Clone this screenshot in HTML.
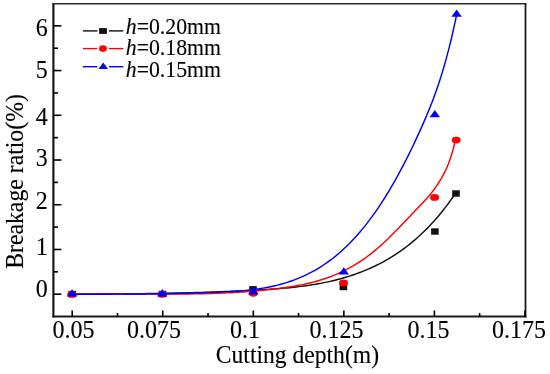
<!DOCTYPE html>
<html><head><meta charset="utf-8"><style>
html,body{margin:0;padding:0;background:#fff;width:550px;height:374px;overflow:hidden}
svg{display:block;filter:blur(0.3px)}
text{font-family:"Liberation Serif","Times New Roman",serif;fill:#000;stroke:#000;stroke-width:0.12px}
</style></head><body>
<svg width="550" height="374" viewBox="0 0 550 374">
<line x1="53.4" y1="2.9" x2="53.4" y2="317.4" stroke="#111" stroke-width="2.1"/>
<line x1="525.5" y1="2.9" x2="525.5" y2="317.4" stroke="#1a1a1a" stroke-width="1.8"/>
<line x1="52.4" y1="3.75" x2="526.4" y2="3.75" stroke="#2a2a2a" stroke-width="1.6"/>
<line x1="52.4" y1="316.5" x2="526.4" y2="316.5" stroke="#1a1a1a" stroke-width="1.9"/>
<line x1="72.20" y1="316.5" x2="72.20" y2="310.5" stroke="#000" stroke-width="1.6"/>
<line x1="117.47" y1="316.5" x2="117.47" y2="313.0" stroke="#000" stroke-width="1.6"/>
<line x1="162.75" y1="316.5" x2="162.75" y2="310.5" stroke="#000" stroke-width="1.6"/>
<line x1="208.03" y1="316.5" x2="208.03" y2="313.0" stroke="#000" stroke-width="1.6"/>
<line x1="253.30" y1="316.5" x2="253.30" y2="310.5" stroke="#000" stroke-width="1.6"/>
<line x1="298.57" y1="316.5" x2="298.57" y2="313.0" stroke="#000" stroke-width="1.6"/>
<line x1="343.85" y1="316.5" x2="343.85" y2="310.5" stroke="#000" stroke-width="1.6"/>
<line x1="389.12" y1="316.5" x2="389.12" y2="313.0" stroke="#000" stroke-width="1.6"/>
<line x1="434.40" y1="316.5" x2="434.40" y2="310.5" stroke="#000" stroke-width="1.6"/>
<line x1="479.67" y1="316.5" x2="479.67" y2="313.0" stroke="#000" stroke-width="1.6"/>
<line x1="524.95" y1="316.5" x2="524.95" y2="310.5" stroke="#000" stroke-width="1.6"/>
<line x1="53.4" y1="294.20" x2="61.4" y2="294.20" stroke="#000" stroke-width="1.6"/>
<line x1="53.4" y1="271.83" x2="58.0" y2="271.83" stroke="#000" stroke-width="1.6"/>
<line x1="53.4" y1="249.47" x2="61.4" y2="249.47" stroke="#000" stroke-width="1.6"/>
<line x1="53.4" y1="227.10" x2="58.0" y2="227.10" stroke="#000" stroke-width="1.6"/>
<line x1="53.4" y1="204.74" x2="61.4" y2="204.74" stroke="#000" stroke-width="1.6"/>
<line x1="53.4" y1="182.38" x2="58.0" y2="182.38" stroke="#000" stroke-width="1.6"/>
<line x1="53.4" y1="160.01" x2="61.4" y2="160.01" stroke="#000" stroke-width="1.6"/>
<line x1="53.4" y1="137.64" x2="58.0" y2="137.64" stroke="#000" stroke-width="1.6"/>
<line x1="53.4" y1="115.28" x2="61.4" y2="115.28" stroke="#000" stroke-width="1.6"/>
<line x1="53.4" y1="92.92" x2="58.0" y2="92.92" stroke="#000" stroke-width="1.6"/>
<line x1="53.4" y1="70.55" x2="61.4" y2="70.55" stroke="#000" stroke-width="1.6"/>
<line x1="53.4" y1="48.19" x2="58.0" y2="48.19" stroke="#000" stroke-width="1.6"/>
<line x1="53.4" y1="25.82" x2="61.4" y2="25.82" stroke="#000" stroke-width="1.6"/>
<polyline points="72.20,294.11 74.61,294.10 77.02,294.10 79.43,294.09 81.85,294.08 84.26,294.07 86.67,294.06 89.08,294.06 91.49,294.05 93.90,294.04 96.31,294.02 98.72,294.01 101.14,294.00 103.55,293.99 105.96,293.97 108.37,293.96 110.78,293.94 113.19,293.93 115.60,293.91 118.02,293.89 120.43,293.87 122.84,293.85 125.25,293.83 127.66,293.81 130.07,293.79 132.48,293.76 134.89,293.74 137.31,293.71 139.72,293.68 142.13,293.65 144.54,293.62 146.95,293.59 149.36,293.55 151.77,293.52 154.18,293.48 156.60,293.44 159.01,293.40 161.42,293.36 163.83,293.32 166.24,293.27 168.65,293.23 171.06,293.18 173.48,293.13 175.89,293.07 178.30,293.02 180.71,292.97 183.12,292.91 185.53,292.85 187.94,292.79 190.35,292.72 192.77,292.66 195.18,292.59 197.59,292.52 200.00,292.45 202.41,292.37 204.82,292.29 207.23,292.22 209.65,292.13 212.06,292.05 214.47,291.96 216.88,291.88 219.29,291.78 221.70,291.69 224.11,291.59 226.52,291.49 228.94,291.39 231.35,291.29 233.76,291.18 236.17,291.07 238.58,290.96 240.99,290.85 243.40,290.73 245.82,290.61 248.23,290.48 250.64,290.36 253.05,290.23 255.46,290.09 257.87,289.96 260.28,289.82 262.69,289.68 265.11,289.53 267.52,289.38 269.93,289.22 272.34,289.06 274.75,288.89 277.16,288.71 279.57,288.53 281.98,288.33 284.40,288.12 286.81,287.91 289.22,287.68 291.63,287.44 294.04,287.19 296.45,286.92 298.86,286.64 301.28,286.35 303.69,286.03 306.10,285.71 308.51,285.36 310.92,285.00 313.33,284.61 315.74,284.21 318.15,283.79 320.57,283.34 322.98,282.87 325.39,282.38 327.80,281.87 330.21,281.34 332.62,280.77 335.03,280.19 337.45,279.57 339.86,278.93 342.27,278.26 344.68,277.56 347.09,276.84 349.50,276.08 351.91,275.29 354.32,274.47 356.74,273.62 359.15,272.73 361.56,271.81 363.97,270.85 366.38,269.86 368.79,268.83 371.20,267.76 373.62,266.65 376.03,265.50 378.44,264.30 380.85,263.06 383.26,261.77 385.67,260.43 388.08,259.05 390.49,257.61 392.91,256.12 395.32,254.57 397.73,252.97 400.14,251.31 402.55,249.60 404.96,247.82 407.37,245.98 409.78,244.08 412.20,242.12 414.61,240.08 417.02,237.99 419.43,235.82 421.84,233.58 424.25,231.27 426.66,228.88 429.08,226.41 431.49,223.86 433.90,221.22 436.31,218.50 438.72,215.69 441.13,212.78 443.54,209.77 445.95,206.67 448.37,203.47 450.78,200.16 453.19,196.74 455.60,193.22" fill="none" stroke="#111" stroke-width="1.45" stroke-linejoin="round"/>
<rect x="68.40" y="290.80" width="7.6" height="6.4" fill="#111"/>
<rect x="158.70" y="290.80" width="7.6" height="6.4" fill="#111"/>
<rect x="249.20" y="286.10" width="7.6" height="6.4" fill="#111"/>
<rect x="339.60" y="283.80" width="7.6" height="6.4" fill="#111"/>
<rect x="431.10" y="228.30" width="7.6" height="6.4" fill="#111"/>
<rect x="452.20" y="190.30" width="7.6" height="6.4" fill="#111"/>
<polyline points="72.20,294.58 74.61,294.51 77.02,294.44 79.43,294.38 81.85,294.32 84.26,294.27 86.67,294.22 89.08,294.18 91.49,294.14 93.90,294.11 96.31,294.08 98.72,294.05 101.14,294.03 103.55,294.01 105.96,294.00 108.37,293.99 110.78,293.98 113.19,293.97 115.60,293.97 118.02,293.96 120.43,293.96 122.84,293.96 125.25,293.97 127.66,293.97 130.07,293.98 132.48,293.99 134.89,293.99 137.31,294.00 139.72,294.01 142.13,294.02 144.54,294.03 146.95,294.04 149.36,294.05 151.77,294.05 154.18,294.06 156.60,294.07 159.01,294.07 161.42,294.07 163.83,294.08 166.24,294.08 168.65,294.07 171.06,294.07 173.48,294.06 175.89,294.05 178.30,294.04 180.71,294.03 183.12,294.01 185.53,293.99 187.94,293.96 190.35,293.93 192.77,293.90 195.18,293.86 197.59,293.82 200.00,293.77 202.41,293.72 204.82,293.67 207.23,293.61 209.65,293.54 212.06,293.47 214.47,293.39 216.88,293.30 219.29,293.21 221.70,293.12 224.11,293.01 226.52,292.90 228.94,292.79 231.35,292.66 233.76,292.53 236.17,292.39 238.58,292.24 240.99,292.09 243.40,291.92 245.82,291.75 248.23,291.57 250.64,291.38 253.05,291.18 255.46,290.98 257.87,290.76 260.28,290.53 262.69,290.30 265.11,290.05 267.52,289.79 269.93,289.53 272.34,289.25 274.75,288.96 277.16,288.66 279.57,288.35 281.98,288.03 284.40,287.69 286.81,287.34 289.22,286.97 291.63,286.59 294.04,286.19 296.45,285.77 298.86,285.32 301.28,284.85 303.69,284.35 306.10,283.83 308.51,283.28 310.92,282.70 313.33,282.08 315.74,281.44 318.15,280.75 320.57,280.03 322.98,279.28 325.39,278.48 327.80,277.64 330.21,276.75 332.62,275.83 335.03,274.85 337.45,273.83 339.86,272.75 342.27,271.63 344.68,270.45 347.09,269.22 349.50,267.94 351.91,266.59 354.32,265.19 356.74,263.72 359.15,262.19 361.56,260.60 363.97,258.94 366.38,257.22 368.79,255.42 371.20,253.56 373.62,251.62 376.03,249.61 378.44,247.54 380.85,245.40 383.26,243.20 385.67,240.95 388.08,238.65 390.49,236.30 392.91,233.91 395.32,231.48 397.73,229.02 400.14,226.53 402.55,224.02 404.96,221.49 407.37,218.95 409.78,216.41 412.20,213.86 414.61,211.32 417.02,208.79 419.43,206.27 421.84,203.76 424.25,201.19 426.66,198.55 429.08,195.79 431.49,192.86 433.90,189.74 436.31,186.37 438.72,182.73 441.13,178.77 443.54,174.44 445.95,169.60 448.37,163.96 450.78,157.22 453.19,149.10 455.60,139.29" fill="none" stroke="#f00" stroke-width="1.45" stroke-linejoin="round"/>
<ellipse cx="71.80" cy="294.40" rx="4.5" ry="3.4" fill="#f00"/>
<ellipse cx="162.00" cy="294.30" rx="4.5" ry="3.4" fill="#f00"/>
<ellipse cx="253.20" cy="293.30" rx="4.5" ry="3.4" fill="#f00"/>
<ellipse cx="343.50" cy="283.00" rx="4.5" ry="3.4" fill="#f00"/>
<ellipse cx="434.60" cy="197.40" rx="4.5" ry="3.4" fill="#f00"/>
<ellipse cx="456.20" cy="140.10" rx="4.5" ry="3.4" fill="#f00"/>
<polyline points="72.20,294.17 74.62,294.18 77.03,294.18 79.45,294.18 81.87,294.18 84.28,294.18 86.70,294.18 89.11,294.18 91.53,294.18 93.95,294.18 96.36,294.18 98.78,294.17 101.20,294.17 103.61,294.16 106.03,294.16 108.45,294.15 110.86,294.15 113.28,294.14 115.69,294.13 118.11,294.12 120.53,294.11 122.94,294.09 125.36,294.08 127.78,294.06 130.19,294.05 132.61,294.03 135.03,294.01 137.44,293.99 139.86,293.97 142.27,293.94 144.69,293.92 147.11,293.89 149.52,293.86 151.94,293.83 154.36,293.80 156.77,293.77 159.19,293.73 161.61,293.69 164.02,293.65 166.44,293.61 168.85,293.57 171.27,293.52 173.69,293.48 176.10,293.43 178.52,293.37 180.94,293.32 183.35,293.26 185.77,293.20 188.18,293.14 190.60,293.08 193.02,293.01 195.43,292.94 197.85,292.87 200.27,292.80 202.68,292.72 205.10,292.64 207.52,292.56 209.93,292.48 212.35,292.39 214.76,292.30 217.18,292.20 219.60,292.11 222.01,292.00 224.43,291.89 226.85,291.77 229.26,291.65 231.68,291.51 234.10,291.36 236.51,291.20 238.93,291.02 241.34,290.82 243.76,290.61 246.18,290.38 248.59,290.13 251.01,289.86 253.43,289.57 255.84,289.25 258.26,288.91 260.68,288.54 263.09,288.14 265.51,287.71 267.92,287.26 270.34,286.77 272.76,286.25 275.17,285.69 277.59,285.10 280.01,284.47 282.42,283.81 284.84,283.10 287.26,282.35 289.67,281.56 292.09,280.72 294.50,279.84 296.92,278.91 299.34,277.92 301.75,276.89 304.17,275.80 306.59,274.66 309.00,273.46 311.42,272.21 313.84,270.89 316.25,269.51 318.67,268.07 321.08,266.56 323.50,264.99 325.92,263.35 328.33,261.63 330.75,259.85 333.17,257.99 335.58,256.06 338.00,254.05 340.42,251.96 342.83,249.79 345.25,247.54 347.66,245.21 350.08,242.79 352.50,240.29 354.91,237.69 357.33,235.01 359.75,232.24 362.16,229.37 364.58,226.40 366.99,223.34 369.41,220.18 371.83,216.92 374.24,213.57 376.66,210.11 379.08,206.55 381.49,202.89 383.91,199.12 386.33,195.26 388.74,191.29 391.16,187.23 393.57,183.05 395.99,178.78 398.41,174.40 400.82,169.93 403.24,165.34 405.66,160.65 408.07,155.86 410.49,150.97 412.91,145.97 415.32,140.86 417.74,135.65 420.15,130.33 422.57,124.91 424.99,119.37 427.40,113.68 429.82,107.79 432.24,101.65 434.65,95.21 437.07,88.42 439.49,81.24 441.90,73.62 444.32,65.51 446.73,56.86 449.15,47.63 451.57,37.76 453.98,27.21 456.40,15.93" fill="none" stroke="#00f" stroke-width="1.45" stroke-linejoin="round"/>
<polygon points="72.00,289.20 77.20,296.50 66.80,296.50" fill="#00f"/>
<polygon points="162.30,289.10 167.50,296.40 157.10,296.40" fill="#00f"/>
<polygon points="253.40,287.30 258.60,294.60 248.20,294.60" fill="#00f"/>
<polygon points="343.80,267.20 349.00,274.50 338.60,274.50" fill="#00f"/>
<polygon points="434.80,110.00 440.00,117.30 429.60,117.30" fill="#00f"/>
<polygon points="456.60,9.50 461.80,16.80 451.40,16.80" fill="#00f"/>
<text transform="translate(47.80,297.33) scale(1,1.07)" text-anchor="end" font-size="24">0</text>
<text transform="translate(47.80,255.23) scale(1,1.07)" text-anchor="end" font-size="24">1</text>
<text transform="translate(47.80,209.43) scale(1,1.07)" text-anchor="end" font-size="24">2</text>
<text transform="translate(47.80,165.93) scale(1,1.07)" text-anchor="end" font-size="24">3</text>
<text transform="translate(47.80,124.53) scale(1,1.07)" text-anchor="end" font-size="24">4</text>
<text transform="translate(47.80,77.83) scale(1,1.07)" text-anchor="end" font-size="24">5</text>
<text transform="translate(47.80,36.43) scale(1,1.07)" text-anchor="end" font-size="24">6</text>
<text transform="translate(73.60,337.90) scale(1,1.07)" text-anchor="middle" font-size="24">0.05</text>
<text transform="translate(154.10,337.90) scale(1,1.07)" text-anchor="middle" font-size="24">0.075</text>
<text transform="translate(245.00,337.90) scale(1,1.07)" text-anchor="middle" font-size="24">0.1</text>
<text transform="translate(336.40,337.90) scale(1,1.07)" text-anchor="middle" font-size="24">0.125</text>
<text transform="translate(428.40,337.90) scale(1,1.07)" text-anchor="middle" font-size="24">0.15</text>
<text transform="translate(518.90,337.90) scale(1,1.07)" text-anchor="middle" font-size="24">0.175</text>
<text transform="translate(297.40,363.30) scale(1,1.088)" text-anchor="middle" font-size="23.6">Cutting depth(m)</text>
<text transform="translate(23.20,181.50) rotate(-90) scale(1,1.08)" text-anchor="middle" font-size="23.75">Breakage ratio(%)</text>
<line x1="82.9" y1="30.9" x2="97.4" y2="30.9" stroke="#111" stroke-width="1.4"/>
<line x1="108.9" y1="30.9" x2="123.3" y2="30.9" stroke="#111" stroke-width="1.4"/>
<rect x="99.1" y="28.099999999999998" width="7.8" height="5.8" fill="#111"/>
<text transform="translate(125.80,33.50) scale(1,1.02)" text-anchor="start" font-size="21.8"><tspan font-style="italic">h</tspan>=0.20mm</text>
<line x1="82.9" y1="48.6" x2="97.4" y2="48.6" stroke="#f00" stroke-width="1.4"/>
<line x1="108.9" y1="48.6" x2="123.3" y2="48.6" stroke="#f00" stroke-width="1.4"/>
<ellipse cx="103.0" cy="48.6" rx="3.9" ry="3.3" fill="#f00"/>
<text transform="translate(125.80,55.10) scale(1,1.02)" text-anchor="start" font-size="21.8"><tspan font-style="italic">h</tspan>=0.18mm</text>
<line x1="82.9" y1="66.7" x2="97.4" y2="66.7" stroke="#00f" stroke-width="1.4"/>
<line x1="108.9" y1="66.7" x2="123.3" y2="66.7" stroke="#00f" stroke-width="1.4"/>
<polygon points="103.2,62.400000000000006 108.0,69.10000000000001 98.4,69.10000000000001" fill="#00f"/>
<text transform="translate(125.80,77.00) scale(1,1.02)" text-anchor="start" font-size="21.8"><tspan font-style="italic">h</tspan>=0.15mm</text>
</svg>
</body></html>
